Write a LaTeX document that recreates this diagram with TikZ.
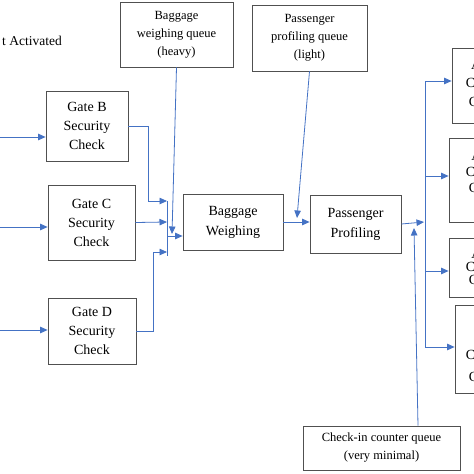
\documentclass[tikz,border=0pt]{standalone}
\usepackage{fontspec}
\setmainfont{Liberation Serif}
\usetikzlibrary{arrows.meta}
\definecolor{flowblue}{HTML}{4472C4}
\definecolor{boxgray}{HTML}{505050}
\tikzset{
  boxnode/.style={draw=boxgray, line width=0.8pt, align=center, inner sep=2pt, fill=white},
  gatebox/.style={boxnode, font=\fontsize{14}{19}\selectfont},
  queuebox/.style={boxnode, font=\fontsize{12.5}{18}\selectfont},
  counterbox/.style={draw=boxgray, line width=0.8pt, minimum width=70pt, inner sep=0pt},
  countertext/.style={align=center, inner sep=0pt},
  flowline/.style={draw=flowblue, line width=0.8pt},
  flowarrow/.style={flowline, -{Triangle[length=7.5pt,width=6.5pt]}, fill=none}
}
\begin{document}
\begin{tikzpicture}[x=1pt,y=-1pt]
\useasboundingbox (0,0) rectangle (474,474);
\clip (0,0) rectangle (474,474);

% header text
\node[anchor=east, inner sep=0pt, font=\fontsize{13.5}{16}\selectfont] (alert) at (62,41) {t Activated};

% queue boxes
\node[queuebox, minimum width=113pt, minimum height=65pt] (bq) at (176.5,34.5) {Baggage\\weighing queue\\(heavy)};
\node[queuebox, minimum width=115pt, minimum height=66pt] (pq) at (309.5,38) {Passenger\\profiling queue\\(light)};
\node[queuebox, minimum width=157pt, minimum height=44pt] (cq) at (381.5,448) {Check-in counter queue\\(very minimal)};

% gate boxes
\node[gatebox, minimum width=82pt, minimum height=70pt] (gB) at (87,126) {Gate B\\Security\\Check};
\node[gatebox, minimum width=87pt, minimum height=75pt] (gC) at (91.5,222.5) {Gate C\\Security\\Check};
\node[gatebox, minimum width=88pt, minimum height=66pt] (gD) at (92,331) {Gate D\\Security\\Check};

% process boxes
\node[gatebox, font=\fontsize{14}{20}\selectfont, minimum width=100pt, minimum height=56pt] (bw) at (233,222) {Baggage\\Weighing};
\node[gatebox, font=\fontsize{14}{20}\selectfont, minimum width=91pt, minimum height=58pt] (pp) at (355.5,224) {Passenger\\Profiling};

% counter boxes (cut by right edge)
\node[counterbox, minimum height=75pt] (k1) at (487,85.5) {};
\node[counterbox, minimum height=84pt] (k2) at (484,180) {};
\node[counterbox, minimum height=59pt] (k3) at (484,267.5) {};
\node[counterbox, minimum height=88pt] (k4) at (490,349) {};
\node[countertext, font=\fontsize{14}{18.5}\selectfont] (k1t) at (491.5,83) {Area A\\Check-in\\Counter};
\node[countertext, font=\fontsize{14}{16}\selectfont] (k2t) at (491.5,172) {Area B\\Check-in\\Counter};
\node[countertext, font=\fontsize{14}{13}\selectfont] (k3t) at (491.5,267) {Area C\\Check-in\\Counter};
\node[countertext, font=\fontsize{14}{22}\selectfont] (k4t) at (491.5,366) {Check-in\\Counter};

% coordinates
\coordinate (inB) at (0,137);
\coordinate (inC) at (0,227);
\coordinate (inD) at (0,330);
\coordinate (busLtop) at (167,201);
\coordinate (busLbot) at (167,256);
\coordinate (busLmid) at (167,236);
\coordinate (busRtop) at (425,81);
\coordinate (busRbot) at (425,347);

% inputs to gates
\draw[flowarrow] (inB) -- (inB -| gB.west);
\draw[flowarrow] (inC) -- (inC -| gC.west);
\draw[flowarrow] (inD) -- (inD -| gD.west);

% gates to merge bus
\draw[flowarrow] (gB.east) -- (148,126) -- (148,201) -- (busLtop);
\draw[flowarrow] (gC.east) -- (167,222);
\draw[flowarrow] (gD.east) -- (153,331) -- (153,252) -- (167,252);
\draw[flowline] (busLtop) -- (busLbot);
\draw[flowarrow] (busLmid) -- (busLmid -| bw.west);

% baggage queue
\draw[flowarrow] (bq.south) -- (172,234);

% baggage weighing to profiling
\draw[flowarrow] (bw.east) -- (bw.east -| pp.west);

% profiling queue
\draw[flowarrow] (pq.south) -- (297,218);

% profiling to right bus
\draw[flowarrow] (pp.east) -- (424,222);

% check-in counter queue
\draw[flowarrow] (cq.north -| 418,0) -- (414,228);

% right bus and branches
\draw[flowline] (busRtop) -- (busRbot);
\draw[flowarrow] (busRtop) -- (busRtop -| k1.west);
\draw[flowarrow] (425,176) -- (k2.west |- 0,176);
\draw[flowarrow] (425,271) -- (k3.west |- 0,271);
\draw[flowarrow] (busRbot) -- (busRbot -| k4.west);
\end{tikzpicture}
\end{document}
